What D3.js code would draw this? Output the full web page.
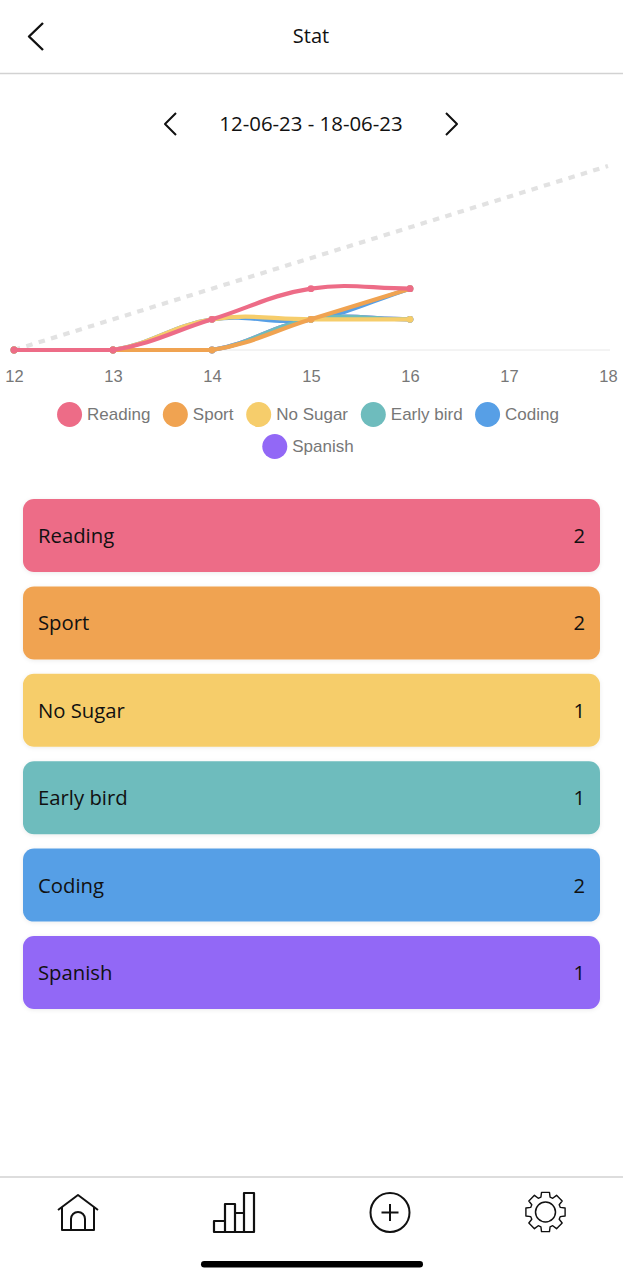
<!DOCTYPE html>
<html>
<head>
<meta charset="utf-8">
<script src="https://cdn.jsdelivr.net/npm/d3@7"></script>
<style>
	html, body { margin: 0; padding: 0; background: #fff; }
	svg { display: block; }
</style>
</head>
<body>
<div id="chart"></div>
<script>
// Data

var days = [12, 13, 14, 15, 16, 17, 18];
var habits = ['Reading', 'Sport', 'No Sugar', 'Early bird', 'Coding', 'Spanish'];
var colors = ['#ed6c87', '#f0a351', '#f6cd6b', '#6ebcbd', '#579fe6', '#9268f6'];
var totals = [2, 2, 1, 1, 2, 1];

var readingValues = [0, 0, 1, 2, 2];
var sportValues = [0, 0, 0, 1, 2];
var noSugarValues = [0, 0, 1, 1, 1];
var earlyBirdValues = [0, 0, 0, 1, 1];
var codingValues = [0, 0, 1, 1, 2];
var spanishValues = [0, 0, 0, 1, 1];
var seriesValues = [readingValues, sportValues, noSugarValues, earlyBirdValues, codingValues, spanishValues];

var targetDays = [12, 18];
var targetValues = [0, 6];

var pageTitle = 'Stat';
var dateRange = '12-06-23 - 18-06-23';


// Config

var width = 623;
var height = 1280;
var appFont = '"Open Sans", sans-serif';
var chartFont = '"Liberation Sans", Arial, sans-serif';
var lineTension = 0.4;

var svg = d3.select('#chart').append('svg')
	.attr('width', width)
	.attr('height', height);

var x = d3.scaleLinear().domain([12, 18]).range([14, 608]);
var y = d3.scaleLinear().domain([0, 6]).range([350, 166]);


// Helpers

function rule(yPos) {
	svg.append('line')
		.attr('x1', 0).attr('x2', width)
		.attr('y1', yPos).attr('y2', yPos)
		.attr('stroke', '#d2d2d2')
		.attr('stroke-width', 1.5);
}

function icon(d, strokeWidth) {
	return svg.append('path')
		.attr('d', d)
		.attr('fill', 'none')
		.attr('stroke', '#111')
		.attr('stroke-width', strokeWidth)
		.attr('stroke-linejoin', 'round');
}

// Spline with its control points kept inside the plot, so flat runs stay on the baseline
function cappedSpline(context) {
	let pts;
	return {
		lineStart() { pts = []; },
		point(px, py) { pts.push([+px, +py]); },
		areaStart() {},
		areaEnd() {},
		lineEnd() {
			let controls = pts.map((p, i) => {
				let prev = pts[Math.max(i - 1, 0)];
				let next = pts[Math.min(i + 1, pts.length - 1)];
				let d01 = Math.hypot(p[0] - prev[0], p[1] - prev[1]);
				let d12 = Math.hypot(next[0] - p[0], next[1] - p[1]);
				let fa = d01 / (d01 + d12);
				let fb = d12 / (d01 + d12);
				let cap = v => Math.min(v, y(0));
				return {
					before: [p[0] - lineTension * fa * (next[0] - prev[0]), cap(p[1] - lineTension * fa * (next[1] - prev[1]))],
					after: [p[0] + lineTension * fb * (next[0] - prev[0]), cap(p[1] + lineTension * fb * (next[1] - prev[1]))]
				};
			});
			pts.forEach((p, i) => {
				if (i === 0) {
					context.moveTo(p[0], p[1]);
				} else {
					let a = controls[i - 1].after;
					let b = controls[i].before;
					context.bezierCurveTo(a[0], a[1], b[0], b[1], p[0], p[1]);
				}
			});
		}
	};
}


// Page chrome

rule(73.5);
rule(1177);

svg.append('text')
	.attr('x', 311).attr('y', 43)
	.attr('text-anchor', 'middle')
	.attr('font-family', appFont)
	.attr('font-size', 20)
	.attr('fill', '#111')
	.text(pageTitle);

svg.append('text')
	.attr('x', 311).attr('y', 131)
	.attr('text-anchor', 'middle')
	.attr('font-family', appFont)
	.attr('font-size', 20.4)
	.attr('fill', '#111')
	.text(dateRange);

icon('M43,23 L29,36.5 L43,50', 2.4);
icon('M176,113 L165,124 L176,135', 2);
icon('M446,113 L457,124 L446,135', 2);


// Chart

var axisX = d3.axisBottom(x).tickValues(days).tickFormat(d3.format('d')).tickSize(0).tickPadding(0);

var axisG = svg.append('g')
	.attr('transform', `translate(0, ${y(0)})`)
	.call(axisX);
axisG.select('.domain').remove();
axisG.selectAll('text')
	.attr('y', 20)
	.attr('dy', '0.71em')
	.attr('font-family', chartFont)
	.attr('font-size', 16.5)
	.attr('fill', '#777');

svg.append('line')
	.attr('x1', x(12)).attr('x2', 610)
	.attr('y1', y(0)).attr('y2', y(0))
	.attr('stroke', '#e8e8e8')
	.attr('stroke-width', 1);

svg.append('path')
	.attr('d', d3.line()(targetDays.map((d, i) => [x(d), y(targetValues[i])])))
	.attr('fill', 'none')
	.attr('stroke', '#e2e2e2')
	.attr('stroke-width', 4.2)
	.attr('stroke-dasharray', '6.5 6.4');

var curve = d3.line()
	.x((d, i) => x(days[i]))
	.y(d => y(d))
	.curve(cappedSpline);

// First series ends up on top, so draw them back to front
var drawOrder = d3.range(habits.length).reverse();

var seriesG = svg.selectAll('.habit-line')
	.data(drawOrder)
	.enter().append('g')
		.attr('class', 'habit-line');

seriesG.append('path')
	.attr('d', i => curve(seriesValues[i]))
	.attr('fill', 'none')
	.attr('stroke', i => colors[i])
	.attr('stroke-width', 4.2);

seriesG.selectAll('circle')
	.data(i => seriesValues[i].map((v, j) => ({ v, j, i })))
	.enter().append('circle')
		.attr('cx', d => x(days[d.j]))
		.attr('cy', d => y(d.v))
		.attr('r', 3.4)
		.attr('fill', d => colors[d.i]);


// Legend, laid out in centred rows like the chart library does

var legendRowY = [414.5, 446.5];
var legendSwatch = 12.5;
var legendGap = 12.45;
var legendMaxWidth = 540;
var legendItems = svg.selectAll('.legend-item')
	.data(habits)
	.enter().append('g')
		.attr('class', 'legend-item');

legendItems.append('circle')
	.attr('r', legendSwatch)
	.attr('fill', (d, i) => colors[i]);

legendItems.append('text')
	.attr('x', legendSwatch + 5)
	.attr('dy', '0.35em')
	.attr('font-family', chartFont)
	.attr('font-size', 17)
	.attr('fill', '#777')
	.text(d => d);

var legendRows = [[]];
var rowWidth = 0;
legendItems.each(function() {
	let itemWidth = this.getBBox().width;
	if (rowWidth + itemWidth > legendMaxWidth) {
		legendRows.push([]);
		rowWidth = 0;
	}
	legendRows[legendRows.length - 1].push({ node: this, itemWidth });
	rowWidth += itemWidth + legendGap;
});
legendRows.forEach((row, r) => {
	let total = d3.sum(row, d => d.itemWidth) + legendGap * (row.length - 1);
	let cursor = (width - total) / 2 - 3.5;
	row.forEach(item => {
		d3.select(item.node).attr('transform', `translate(${cursor + legendSwatch}, ${legendRowY[r]})`);
		cursor += item.itemWidth + legendGap;
	});
});


// Cards

var cardY = d3.scalePoint().domain(d3.range(habits.length)).range([499, 936]);

var defs = svg.append('defs');
defs.append('filter').attr('id', 'card-shadow')
	.attr('x', '-5%').attr('y', '-20%').attr('width', '110%').attr('height', '140%')
	.append('feDropShadow')
		.attr('dx', 0).attr('dy', 1)
		.attr('stdDeviation', 2)
		.attr('flood-color', '#000')
		.attr('flood-opacity', 0.08);

var cards = svg.selectAll('.card')
	.data(habits)
	.enter().append('g')
		.attr('class', 'card')
		.attr('transform', (d, i) => `translate(23, ${cardY(i)})`);

cards.append('rect')
	.attr('width', 577)
	.attr('height', 73)
	.attr('rx', 11)
	.attr('fill', (d, i) => colors[i])
	.attr('filter', 'url(#card-shadow)');

cards.append('text')
	.attr('x', 15)
	.attr('y', 44)
	.attr('font-family', appFont)
	.attr('font-size', 20.3)
	.attr('fill', '#111')
	.text(d => d);

cards.append('text')
	.attr('x', 562)
	.attr('y', 44)
	.attr('text-anchor', 'end')
	.attr('font-family', appFont)
	.attr('font-size', 20.3)
	.attr('fill', '#111')
	.text((d, i) => totals[i]);


// Tab bar

icon('M58,1210 L78,1195 L98,1210 M62,1207 L62,1230 L94,1230 L94,1207 M71,1230 L71,1219 A7,7 0 0 1 85,1219 L85,1230', 2);
icon('M214,1232 L214,1221 L225,1221 L225,1232 Z M225,1232 L225,1204 L235,1204 L235,1232 Z M235,1232 L235,1213 L244,1213 L244,1232 Z M244,1232 L244,1193 L254,1193 L254,1232 Z', 2.2);

svg.append('circle')
	.attr('cx', 390).attr('cy', 1212.5).attr('r', 19.5)
	.attr('fill', 'none').attr('stroke', '#111').attr('stroke-width', 2);
icon('M390,1204 L390,1221 M381.5,1212.5 L398.5,1212.5', 2);

var gearCx = 545.5;
var gearCy = 1212;
var gearPoints = [];
d3.range(8).forEach(t => {
	let a = t * Math.PI / 4 - Math.PI / 2;
	[[-0.3, 15.5], [-0.2, 20], [0.2, 20], [0.3, 15.5]].forEach(p => {
		gearPoints.push([gearCx + p[1] * Math.cos(a + p[0]), gearCy + p[1] * Math.sin(a + p[0])]);
	});
});
icon(d3.line().curve(d3.curveLinearClosed)(gearPoints), 1.4);
svg.append('circle')
	.attr('cx', gearCx).attr('cy', gearCy).attr('r', 10)
	.attr('fill', 'none').attr('stroke', '#111').attr('stroke-width', 1.5);

svg.append('rect')
	.attr('x', 201).attr('y', 1261)
	.attr('width', 222).attr('height', 6.5)
	.attr('rx', 3.2)
	.attr('fill', '#000');
</script>
</body>
</html>
